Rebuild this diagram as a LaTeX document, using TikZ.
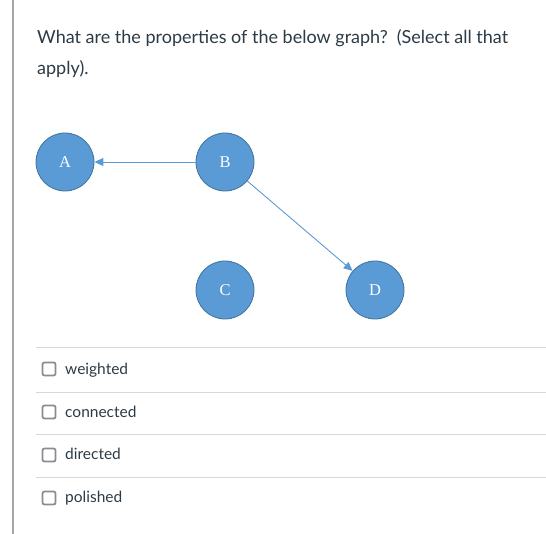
\documentclass[tikz,border=0pt]{standalone}
\usepackage{fontspec}
\setmainfont{Lato}
\newfontfamily\nodefont{Liberation Serif}
\usetikzlibrary{arrows.meta}
\definecolor{nodefill}{HTML}{5B9BD5}
\definecolor{nodeline}{HTML}{41719C}
\definecolor{txt}{HTML}{2D3B45}
\definecolor{sep}{HTML}{D7D7D7}
\definecolor{boxc}{HTML}{8B8B95}
\begin{document}
\begin{tikzpicture}[x=1pt,y=-1pt,
  vertex/.style={circle,fill=nodefill,draw=nodeline,line width=0.8pt,minimum size=58pt,inner sep=0pt,text=white,font=\nodefont\fontsize{16.5}{16}\selectfont},
  edge/.style={draw=nodefill,line width=0.9pt,-{Triangle[length=9pt,width=8pt]}},
  sepline/.style={draw=sep,line width=1pt},
  cbox/.style={draw=boxc,line width=1.8pt,rounded corners=2pt,minimum size=13pt,inner sep=0pt},
  opt/.style={anchor=base west,inner sep=0pt,text=txt,font=\fontsize{15.5}{16}\selectfont},
  title/.style={anchor=base west,inner sep=0pt,text=txt,font=\fontsize{18}{18}\selectfont}]
\useasboundingbox (0,0) rectangle (546,534);
\fill[white] (0,0) rectangle (546,534);
\draw[draw=black!35,line width=1.6pt] (13,0) -- (13,534);
\node[title] (t1) at (37,44) {What are the properties of the below graph?\hspace{9pt}(Select all that};
\node[title] (t2) at (37,75) {apply).};
\node[vertex] (A) at (65,162) {A};
\node[vertex] (B) at (225,162) {B};
\node[vertex] (C) at (225,290) {C};
\node[vertex] (D) at (375,290) {D};
\draw[edge] (B) -- (A);
\draw[edge] (B) -- (D);
\foreach \y/\n in {348/s1,392/s2,434/s3,477/s4}{
  \coordinate (\n a) at (36,\y); \coordinate (\n b) at (546,\y);
  \draw[sepline] (\n a) -- (\n b);
}
\node[cbox] (c1) at (49,369) {};
\node[cbox] (c2) at (49,412) {};
\node[cbox] (c3) at (49,455) {};
\node[cbox] (c4) at (49,498) {};
\node[opt] (o1) at (65,374) {weighted};
\node[opt] (o2) at (65,417) {connected};
\node[opt] (o3) at (65,459) {directed};
\node[opt] (o4) at (65,502) {polished};
\end{tikzpicture}
\end{document}
